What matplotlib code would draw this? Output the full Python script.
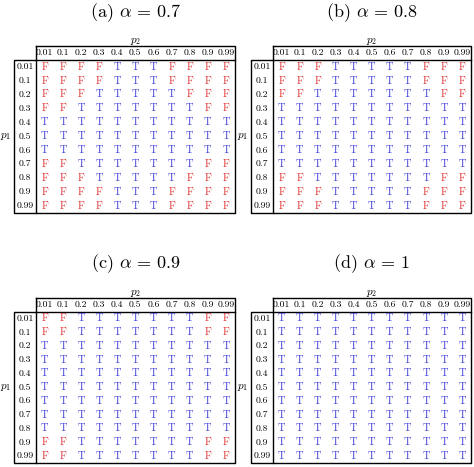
import matplotlib
matplotlib.use("Agg")
import matplotlib.pyplot as plt

plt.rcParams['font.family'] = 'serif'
plt.rcParams['font.serif'] = ['cmr10', 'DejaVu Serif']
plt.rcParams['mathtext.fontset'] = 'cm'

p_labels = ["0.01", "0.1", "0.2", "0.3", "0.4", "0.5", "0.6", "0.7", "0.8", "0.9", "0.99"]
titles = [r"(a) $\alpha$ = 0.7", r"(b) $\alpha$ = 0.8", r"(c) $\alpha$ = 0.9", r"(d) $\alpha$ = 1"]

grid_a = ["FFFFTTTFFFF", "FFFFTTTFFFF", "FFFTTTTTFFF", "FFTTTTTTTFF",
          "TTTTTTTTTTT", "TTTTTTTTTTT", "TTTTTTTTTTT", "FFTTTTTTTFF",
          "FFFTTTTTFFF", "FFFFTTTFFFF", "FFFFTTTFFFF"]
grid_b = ["FFFTTTTTFFF", "FFFTTTTTFFF", "FFTTTTTTTFF", "TTTTTTTTTTT",
          "TTTTTTTTTTT", "TTTTTTTTTTT", "TTTTTTTTTTT", "TTTTTTTTTTT",
          "FFTTTTTTTFF", "FFFTTTTTFFF", "FFFTTTTTFFF"]
grid_c = ["FFTTTTTTTFF", "FFTTTTTTTFF", "TTTTTTTTTTT", "TTTTTTTTTTT",
          "TTTTTTTTTTT", "TTTTTTTTTTT", "TTTTTTTTTTT", "TTTTTTTTTTT",
          "TTTTTTTTTTT", "FFTTTTTTTFF", "FFTTTTTTTFF"]
grid_d = ["TTTTTTTTTTT"] * 11
grids = [grid_a, grid_b, grid_c, grid_d]

W, H = 474, 467
fig = plt.figure(figsize=(W / 100, H / 100), dpi=100)

boxes = [(14, 46, 235, 213), (251, 46, 471, 213), (14, 298, 235, 463), (251, 298, 471, 463)]
title_y = [13, 13, 264, 264]
colors = {"T": "#3a3ad8", "F": "#e03030"}

for k, (l, t, r, b) in enumerate(boxes):
    ax = fig.add_axes([l / W, 1 - b / H, (r - l) / W, (b - t) / H])
    ax.set_xlim(-1.2, 11)
    ax.set_ylim(11, -1)
    ax.axis('off')
    lw = 1.0
    ax.plot([0, 11, 11, 0, 0], [-1, -1, 11, 11, -1], color='black', lw=lw, clip_on=False)
    ax.plot([0, 11], [0, 0], color='black', lw=lw, clip_on=False)
    ax.plot([0, -1.2, -1.2, 0], [0, 0, 11, 11], color='black', lw=lw, clip_on=False)
    for j, lab in enumerate(p_labels):
        ax.text(j + 0.5, -0.5, lab, ha='center', va='center', fontsize=7)
        ax.text(-0.6, j + 0.5, lab, ha='center', va='center', fontsize=7)
    for i, row in enumerate(grids[k]):
        for j, ch in enumerate(row):
            ax.text(j + 0.5, i + 0.5, ch, ha='center', va='center', fontsize=7.5,
                    color=colors[ch])
    ax.text(5.5, -1.35, r"$p_2$", ha='center', va='center', fontsize=8)
    ax.text(-1.65, 5.5, r"$p_1$", ha='center', va='center', fontsize=8)
    fig.text((l + 22 + r) / 2 / W, 1 - title_y[k] / H, titles[k],
             ha='center', va='center', fontsize=13)

fig.savefig("out.png", dpi=100)
